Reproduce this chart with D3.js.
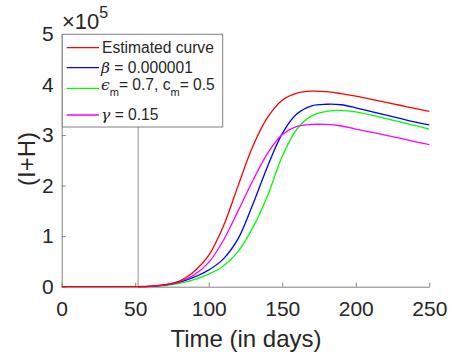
<!DOCTYPE html>
<html>
<head>
<meta charset="utf-8">
<script src="https://cdn.jsdelivr.net/npm/d3@7"></script>
<style>
  html, body { margin: 0; padding: 0; background: #fff; }
  svg { display: block; }
  text { font-family: "Liberation Sans", Arial, Helvetica, sans-serif; fill: #262626; }
</style>
</head>
<body>
<svg id="chart" width="474" height="355"></svg>
<script>
// ---- data (values in units of 1e5) ----
const days = [52, 60, 70, 80, 90, 100, 110, 120, 130, 140, 150, 160, 170, 180, 190, 200, 210, 220, 230, 240, 250];
const estimated = [0.003, 0.01, 0.04, 0.11, 0.30, 0.62, 1.20, 2.00, 2.78, 3.35, 3.69, 3.83, 3.87, 3.86, 3.82, 3.77, 3.71, 3.65, 3.59, 3.53, 3.47];
const betaCase = [0, 0.005, 0.03, 0.09, 0.19, 0.33, 0.55, 0.95, 1.63, 2.38, 3.03, 3.42, 3.58, 3.61, 3.60, 3.54, 3.47, 3.40, 3.33, 3.26, 3.20];
const epsCase = [0, 0.005, 0.02, 0.065, 0.14, 0.25, 0.41, 0.70, 1.17, 1.80, 2.58, 3.12, 3.38, 3.47, 3.49, 3.46, 3.40, 3.33, 3.26, 3.19, 3.12];
const gammaCase = [0, 0.008, 0.035, 0.10, 0.23, 0.48, 0.92, 1.50, 2.10, 2.64, 3.01, 3.17, 3.21, 3.21, 3.18, 3.12, 3.06, 3.00, 2.94, 2.87, 2.81];
const estimatedPre = [[0, 0], [20, 0], [40, 0], [52, 0.003]];
const interventionDay = 52;
const xTicks = [0, 50, 100, 150, 200, 250];
const yTicks = [0, 1, 2, 3, 4, 5];
const seriesColors = ["#ff0000", "#0000ff", "#00ff00", "#ff00ff"];

const svg = d3.select("#chart");
const L = 61.7, R = 429.3, T = 34, B = 286.7;
const x = d3.scaleLinear().domain([0, 250]).range([L, R]);
const y = d3.scaleLinear().domain([0, 5]).range([B, T]);

// vertical line
svg.append("line")
  .attr("x1", x(interventionDay)).attr("x2", x(interventionDay))
  .attr("y1", y(5)).attr("y2", y(0))
  .attr("stroke", "#a6a6a6").attr("stroke-width", 1.2);

// axes
const axisColor = "#808080";
const xAxis = svg.append("g").attr("transform", `translate(0,${B})`)
  .call(d3.axisBottom(x).tickValues(xTicks).tickFormat(d3.format("d")).tickSizeInner(-4).tickSizeOuter(0));
const yAxis = svg.append("g").attr("transform", `translate(${L},0)`)
  .call(d3.axisLeft(y).tickValues(yTicks).tickFormat(d3.format("d")).tickSizeInner(-4).tickSizeOuter(0));
[xAxis, yAxis].forEach(g => {
  g.select(".domain").attr("stroke", axisColor).attr("stroke-width", 1);
  g.selectAll(".tick line").attr("stroke", axisColor);
  g.selectAll(".tick text").style("font-size", "21px").attr("fill", "#262626")
    .style("font-family", '"Liberation Sans", Arial, sans-serif');
});
xAxis.selectAll(".tick text").attr("dy", "0.71em").attr("y", 14);
yAxis.selectAll(".tick text").attr("x", -8);

// lines
const line = d3.line().x(d => x(d[0])).y(d => y(d[1])).curve(d3.curveCatmullRom.alpha(0.5));
const allSeries = [
  estimatedPre.concat(days.slice(1).map((d, i) => [d, estimated[i + 1]])),
  days.map((d, i) => [d, betaCase[i]]),
  days.map((d, i) => [d, epsCase[i]]),
  days.map((d, i) => [d, gammaCase[i]])
];
const order = [2, 1, 3, 0];
order.forEach(k => {
  svg.append("path").datum(allSeries[k])
    .attr("fill", "none").attr("stroke", seriesColors[k])
    .attr("stroke-width", 1.3).attr("d", line);
});

// x10^5 label
const ex = svg.append("text").attr("x", 62).attr("y", 29).style("font-size", "22px");
ex.append("tspan").text("\u00d710");
ex.append("tspan").attr("dy", -11).style("font-size", "16px").text("5");

// axis titles
svg.append("text").attr("x", 246).attr("y", 347).attr("text-anchor", "middle")
  .style("font-size", "24px").text("Time (in days)");
svg.append("text").attr("transform", "translate(35,159) rotate(-90)").attr("text-anchor", "middle")
  .style("font-size", "24px").text("(I+H)");

// legend
const lg = svg.append("g");
lg.append("rect").attr("x", 62.3).attr("y", 34.3).attr("width", 160.4).attr("height", 92.7)
  .attr("fill", "#fff").attr("stroke", "#808080").attr("stroke-width", 1);
const rows = [47.7, 67.7, 88.3, 115];
rows.forEach((ry, i) => {
  lg.append("line").attr("x1", 66.7).attr("x2", 99).attr("y1", ry).attr("y2", ry)
    .attr("stroke", seriesColors[i]).attr("stroke-width", 1.3);
});
const fs = "15.6px";
lg.append("text").attr("x", 102).attr("y", rows[0] + 5.5).style("font-size", fs).text("Estimated curve");
const t1 = lg.append("text").attr("x", 101).attr("y", rows[1] + 5.5).style("font-size", fs);
t1.append("tspan").style("font-family", '"DejaVu Serif", serif').style("font-style", "italic").text("\u03b2");
t1.append("tspan").text(" = 0.000001");
const t2 = lg.append("text").attr("x", 101).attr("y", rows[2] + 2).style("font-size", fs);
t2.append("tspan").style("font-family", '"DejaVu Serif", serif').style("font-style", "italic").text("\u03f5");
t2.append("tspan").attr("dy", 6).style("font-size", "11px").text("m");
t2.append("tspan").attr("dy", -6).text("= 0.7, c");
t2.append("tspan").attr("dy", 6).style("font-size", "11px").text("m");
t2.append("tspan").attr("dy", -6).text("= 0.5");
const t3 = lg.append("text").attr("x", 101).attr("y", rows[3] + 5).style("font-size", fs);
t3.append("tspan").style("font-family", '"DejaVu Serif", serif').style("font-style", "italic").text("\u03b3");
t3.append("tspan").text(" = 0.15");
</script>
</body>
</html>
